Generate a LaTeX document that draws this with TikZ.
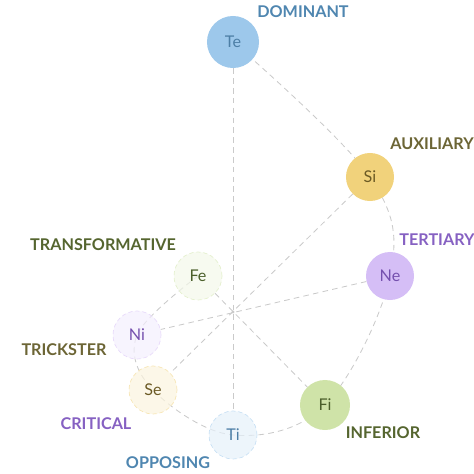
\documentclass[tikz,border=0pt]{standalone}
\usepackage{fontspec}
\setmainfont{Lato}
\usetikzlibrary{backgrounds}
\definecolor{teblue}{HTML}{9DC8EB}
\definecolor{tetext}{HTML}{4D7FA6}
\definecolor{siyellow}{HTML}{F1D27B}
\definecolor{sitext}{HTML}{6B5A24}
\definecolor{nepurple}{HTML}{D5BEF6}
\definecolor{netext}{HTML}{7550AE}
\definecolor{figreen}{HTML}{CFE3A8}
\definecolor{fitext}{HTML}{4B5F2B}
\definecolor{olive}{HTML}{6C6535}
\definecolor{moss}{HTML}{55652F}
\definecolor{violet}{HTML}{8661C2}
\definecolor{steel}{HTML}{4F86B0}
\definecolor{dashgray}{HTML}{CACACA}
\tikzset{
  % Conscious functions (solid fill)
  fn/.style={circle, fill=#1, minimum size=1.2cm, inner sep=0pt,
             font=\fontsize{11.5}{13}\selectfont},
  % Shadow functions (pale fill, dashed rim)
  shadowfn/.style={circle, fill=#1!25, fill opacity=0.7, text opacity=1,
                   draw=#1!55, dashed, dash pattern=on 3pt off 2pt,
                   line width=0.5pt, minimum size=1.2cm, inner sep=0pt,
                   font=\fontsize{11.5}{13}\selectfont},
  % Role labels
  role/.style={font=\bfseries\fontsize{11.5}{13}\selectfont},
  % Links
  link/.style={dashgray, line width=0.6pt, dash pattern=on 4pt off 3pt},
}
\begin{document}
\begin{tikzpicture}[x=0.025cm, y=-0.025cm]
\useasboundingbox (0,0) rectangle (474,474);

% Centre of the wheel
\coordinate (hub) at (233,312);

% Conscious stack
\node[fn=teblue, minimum size=1.3cm, text=tetext] (te) at (233,42) {Te};
\node[fn=siyellow, text=sitext] (si) at (370,177) {Si};
\node[fn=nepurple, text=netext] (ne) at (390,276) {Ne};
\node[fn=figreen, minimum size=1.25cm, text=fitext] (fi) at (325,405) {Fi};

% Shadow stack
\node[shadowfn=teblue, text=tetext] (ti) at (233,435) {Ti};
\node[shadowfn=siyellow, text=sitext] (se) at (153,390) {Se};
\node[shadowfn=nepurple, text=netext] (ni) at (137,335) {Ni};
\node[shadowfn=figreen, text=fitext] (fe) at (198,276) {Fe};

% Role labels
\node[role, text=steel] (ldom) at (303,12) {DOMINANT};
\node[role, text=olive] (laux) at (432,144) {AUXILIARY};
\node[role, text=violet] (lter) at (437,240) {TERTIARY};
\node[role, text=moss] (linf) at (383,433) {INFERIOR};
\node[role, text=steel] (lopp) at (168,463) {OPPOSING};
\node[role, text=violet] (lcri) at (96,424) {CRITICAL};
\node[role, text=olive] (ltri) at (64,350) {TRICKSTER};
\node[role, text=moss] (ltra) at (103,245) {TRANSFORMATIVE};

\begin{scope}[on background layer]
  % Axes through the hub
  \draw[link] (te) -- (ti);
  \draw[link] (si) -- (se);
  \draw[link] (ne) -- (ni);
  \draw[link] (fe) -- (fi);
  % Spiral through the stack
  \draw[link] plot[smooth, tension=0.6] coordinates
    {(te) (si) (ne) (fi) (ti) (se) (ni) (fe)};
  \fill[dashgray] (hub) circle (1.2pt);
\end{scope}

\end{tikzpicture}
\end{document}
